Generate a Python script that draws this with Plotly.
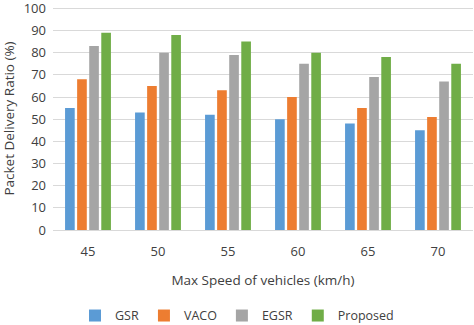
import plotly.graph_objects as go

categories = ["45", "50", "55", "60", "65", "70"]
gsr = [55, 53, 52, 50, 48, 45]
vaco = [68, 65, 63, 60, 55, 51]
egsr = [83, 80, 79, 75, 69, 67]
proposed = [89, 88, 85, 80, 78, 75]

series = [("GSR", gsr, "#5B9BD5"), ("VACO", vaco, "#ED7D31"),
          ("EGSR", egsr, "#A5A5A5"), ("Proposed", proposed, "#70AD47")]

fig = go.Figure()
for name, vals, col in series:
    fig.add_trace(go.Bar(x=categories, y=vals, name=name, marker_color=col,
                         marker_line_width=0))

font = "Open Sans, Liberation Sans, sans-serif"
fig.update_layout(
    width=474, height=325,
    margin=dict(l=53, r=1, t=7, b=95, autoexpand=False),
    paper_bgcolor="white", plot_bgcolor="white",
    barmode="group", bargap=0.31, bargroupgap=0.2,
    font=dict(family=font, size=13, color="#404040"),
    xaxis=dict(title=dict(text="Max Speed of vehicles (km/h)", font=dict(size=13.5, color="#404040"), standoff=16),
               showgrid=False, showline=False, ticks="", tickfont=dict(size=13),
               ticklabelstandoff=12),
    yaxis=dict(title=dict(text="Packet Delivery Ratio (%)", font=dict(size=13.5, color="#404040"), standoff=8),
               range=[0, 100.6], tickvals=list(range(0, 101, 10)), showgrid=True, gridcolor="#D9D9D9", gridwidth=1,
               zeroline=True, zerolinecolor="#D9D9D9", zerolinewidth=1,
               tickfont=dict(size=13), ticks="", ticklabelstandoff=6,
               ticklabeloverflow="allow"),
    legend=dict(orientation="h", x=0.5, xanchor="center", xref="container",
                y=0.028, yanchor="middle", yref="container",
                font=dict(size=12.5), itemwidth=30, tracegroupgap=0),
)
fig.write_html("out.html")
